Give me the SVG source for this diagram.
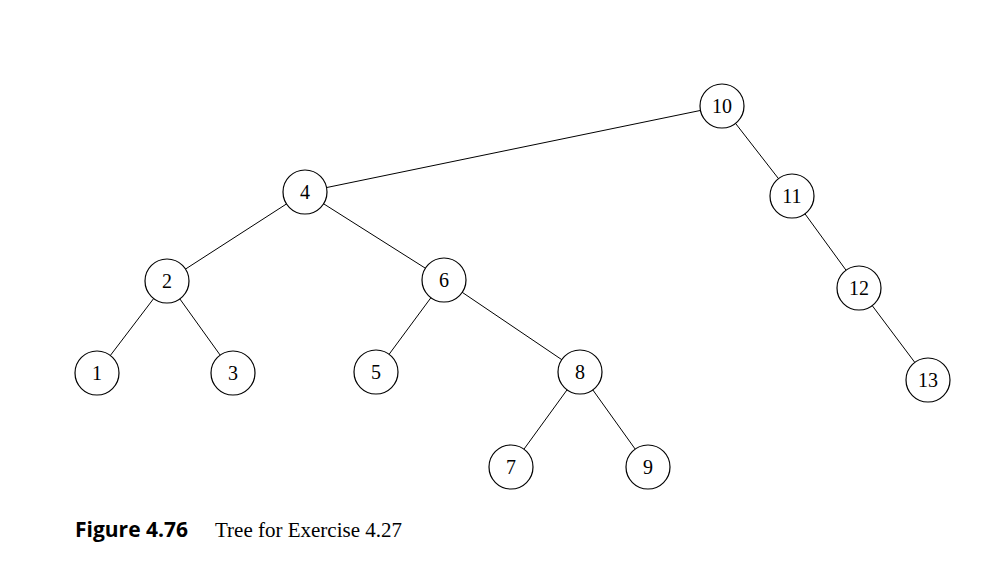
<svg xmlns="http://www.w3.org/2000/svg" width="981" height="570" viewBox="0 0 981 570">
<style>
.n circle{fill:#fff;stroke:#000;stroke-width:1.2}
.n text{font-family:"Liberation Serif",serif;font-size:20px;text-anchor:middle;fill:#000}
#edges line{stroke:#000;stroke-width:1}
</style>
<rect width="981" height="570" fill="#fff"/>
<g id="edges">
<line x1="722" y1="106" x2="305" y2="192"/>
<line x1="722" y1="106" x2="792" y2="196"/>
<line x1="305" y1="192" x2="167" y2="281"/>
<line x1="305" y1="192" x2="444" y2="280"/>
<line x1="792" y1="196" x2="859" y2="288"/>
<line x1="167" y1="281" x2="97" y2="373"/>
<line x1="167" y1="281" x2="233" y2="373"/>
<line x1="444" y1="280" x2="376" y2="372"/>
<line x1="444" y1="280" x2="580" y2="372"/>
<line x1="859" y1="288" x2="928" y2="380"/>
<line x1="580" y1="372" x2="511" y2="467"/>
<line x1="580" y1="372" x2="648" y2="467"/>
</g>
<g id="n10" class="n"><circle cx="722" cy="106" r="22"/><text x="722" y="113">10</text></g>
<g id="n4" class="n"><circle cx="305" cy="192" r="22"/><text x="305" y="199">4</text></g>
<g id="n11" class="n"><circle cx="792" cy="196" r="22"/><text x="792" y="203">11</text></g>
<g id="n2" class="n"><circle cx="167" cy="281" r="22"/><text x="167" y="288">2</text></g>
<g id="n6" class="n"><circle cx="444" cy="280" r="22"/><text x="444" y="287">6</text></g>
<g id="n12" class="n"><circle cx="859" cy="288" r="22"/><text x="859" y="295">12</text></g>
<g id="n1" class="n"><circle cx="97" cy="373" r="22"/><text x="97" y="380">1</text></g>
<g id="n3" class="n"><circle cx="233" cy="373" r="22"/><text x="233" y="380">3</text></g>
<g id="n5" class="n"><circle cx="376" cy="372" r="22"/><text x="376" y="379">5</text></g>
<g id="n8" class="n"><circle cx="580" cy="372" r="22"/><text x="580" y="379">8</text></g>
<g id="n13" class="n"><circle cx="928" cy="380" r="22"/><text x="928" y="387">13</text></g>
<g id="n7" class="n"><circle cx="511" cy="467" r="22"/><text x="511" y="474">7</text></g>
<g id="n9" class="n"><circle cx="648" cy="467" r="22"/><text x="648" y="474">9</text></g>
<g id="caption">
<text x="75" y="537" font-family="'Open Sans','Liberation Sans',sans-serif" font-weight="bold" font-size="21" fill="#000">Figure 4.76</text>
<text x="215" y="537" font-family="'Liberation Serif',serif" font-size="21" fill="#000">Tree for Exercise 4.27</text>
</g>
</svg>
